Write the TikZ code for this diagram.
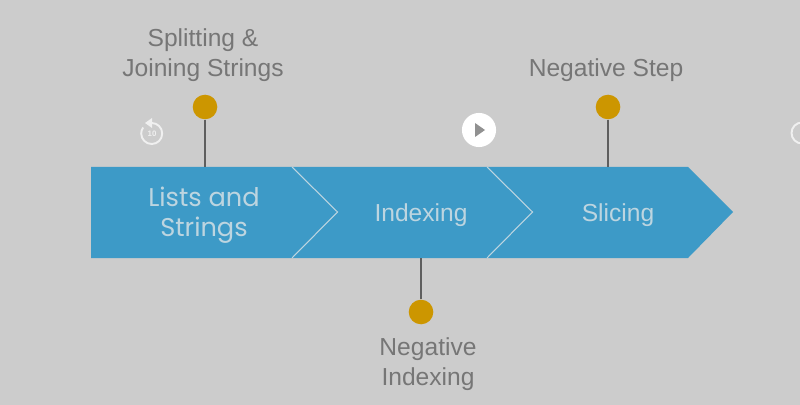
\documentclass[tikz,border=0pt]{standalone}
\usepackage{fontspec}
\setmainfont{Liberation Sans}
\newfontfamily\headfont{Poppins}
\definecolor{bgGrey}{HTML}{CCCCCC}
\definecolor{arrowBlue}{HTML}{3D9AC7}
\definecolor{pinGold}{HTML}{CC9600}
\definecolor{stemGrey}{HTML}{5E5E5E}
\definecolor{labelGrey}{HTML}{767676}
\definecolor{paleText}{HTML}{BDD5E0}
\tikzset{
  pin/.style={circle,fill=pinGold,inner sep=0pt,minimum size=14pt},
  stem/.style={draw=stemGrey,line width=.6pt},
  note/.style={text=labelGrey,font=\fontsize{14}{17}\selectfont,align=center},
  stage/.style={text=paleText,font=\fontsize{14}{17}\selectfont,align=center},
  fold/.style={draw=paleText,line width=.6pt}
}
\begin{document}
\begin{tikzpicture}[x=.02cm,y=-.02cm]
    \useasboundingbox[fill=bgGrey] (0,0) rectangle (800,405);
    % arrow body
    \fill[arrowBlue] (91,167) -- (688,167) -- (733,212) -- (688,258) -- (91,258) -- cycle;
    \foreach \x in {292,487}
    \draw[fold] (\x,167) -- (\x+45.5,212) -- (\x,258);
    \node[stage,font=\headfont\fontsize{14.6}{17.4}\selectfont] (lists) at (204,215) {Lists and\\Strings};
    \node[stage] (indexing) at (421,215) {Indexing};
    \node[stage] (slicing) at (618,215) {Slicing};
    % pins
    \coordinate (topA) at (205,167);
    \coordinate (topB) at (608,167);
    \coordinate (botA) at (421,258);
    \node[pin] (pinA) at (205,107) {};
    \node[pin] (pinB) at (608,107) {};
    \node[pin] (pinC) at (421,312) {};
    \draw[stem] (pinA) -- (topA);
    \draw[stem] (pinB) -- (topB);
    \draw[stem] (pinC) -- (botA);
    \node[note] (splitting) at (203,55) {Splitting \&\\Joining Strings};
    \node[note] (step) at (606,70) {Negative Step};
    \node[note] (negindex) at (428,364) {Negative\\Indexing};
    % player controls
    \node[circle,fill=white,inner sep=0pt,minimum size=19.4pt] (play) at (479,130) {};
    \fill[labelGrey!80] (475,123) -- (485,130) -- (475,137) -- cycle;
    \draw[white!70!bgGrey,line width=1.1pt] (151.7,133.5) ++(-90:10.5) arc[start angle=-90,end angle=215,radius=10.5];
    \fill[white!70!bgGrey] (152,118) -- (152,128) -- (145,123) -- cycle;
    \node[text=white!70!bgGrey,font=\fontsize{4.5}{5}\selectfont\bfseries,inner sep=0pt] (ten) at (152,134) {10};
    \draw[white!70!bgGrey,line width=1.1pt] (802,133) circle (10.5);
\end{tikzpicture}
\end{document}
